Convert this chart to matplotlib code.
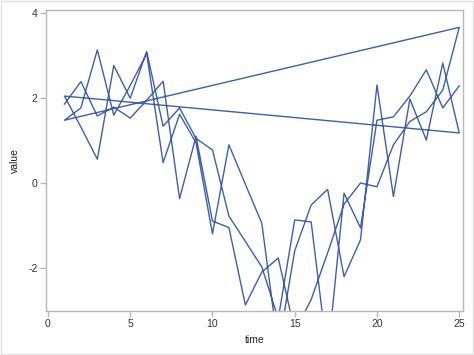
import numpy as np
import matplotlib as mpl
import matplotlib.pyplot as plt
from matplotlib.patches import Rectangle

mpl.rcParams['font.family'] = ['Liberation Sans', 'DejaVu Sans']
mpl.rcParams['axes.unicode_minus'] = False

time = np.arange(1, 26)

# three runs (values below -3 are clipped by the axis)
run1 = [1.86, 2.39, 1.58, 1.79, 1.53, 1.95, 2.40, -0.37, 1.10, -0.90,
        -1.05, -2.88, -2.10, -1.77, -3.50, -2.75, -1.65, -0.50, 0.00, -0.09,
        0.90, 1.45, 1.68, 2.19, 3.67]
run2 = [1.48, 1.77, 3.14, 1.60, 2.30, 3.05, 0.48, 1.62, 0.95, -1.20,
        0.90, -0.03, -0.95, -3.90, -1.60, -0.52, -0.15, -2.21, -1.34, 2.31,
        -0.32, 1.98, 1.01, 2.83, 1.18]
run3 = [2.05, 1.32, 0.56, 2.77, 2.00, 3.10, 1.34, 1.77, 1.05, 0.78,
        -0.78, -1.38, -1.98, -3.20, -0.87, -0.92, -4.10, -0.24, -1.06, 1.48,
        1.56, 2.05, 2.67, 1.77, 2.29]

# data is not grouped, so one line runs through all rows in order
x = np.concatenate([time, time, time])
y = np.concatenate([run1, run2, run3])

fig = plt.figure(figsize=(4.74, 3.55), dpi=100)
ax = fig.add_axes([46/474, 44/355, 417/474, 301/355])

ax.plot(x, y, color='#3d5fab', lw=1.0)

ax.set_xlim(-0.12, 25.23)
ax.set_ylim(-3.02, 4.08)
ax.set_xticks([0, 5, 10, 15, 20, 25])
ax.set_yticks([-2, 0, 2, 4])
ax.set_xlabel('time', fontsize=7.5, color='#222222', labelpad=4)
ax.set_ylabel('value', fontsize=7.5, color='#222222', labelpad=6)

for s in ax.spines.values():
    s.set_color('#b8b8b8')
    s.set_linewidth(1.0)
ax.tick_params(direction='out', length=4, width=1, color='#b8b8b8',
               labelsize=7.5, labelcolor='#333333', pad=2)

# light frame around the whole graph
fig.patches.append(Rectangle((0.002, 0.003), 0.995, 0.994, transform=fig.transFigure,
                             fill=False, edgecolor='#e0e0e0', lw=1))

fig.savefig('out.png', dpi=100)
